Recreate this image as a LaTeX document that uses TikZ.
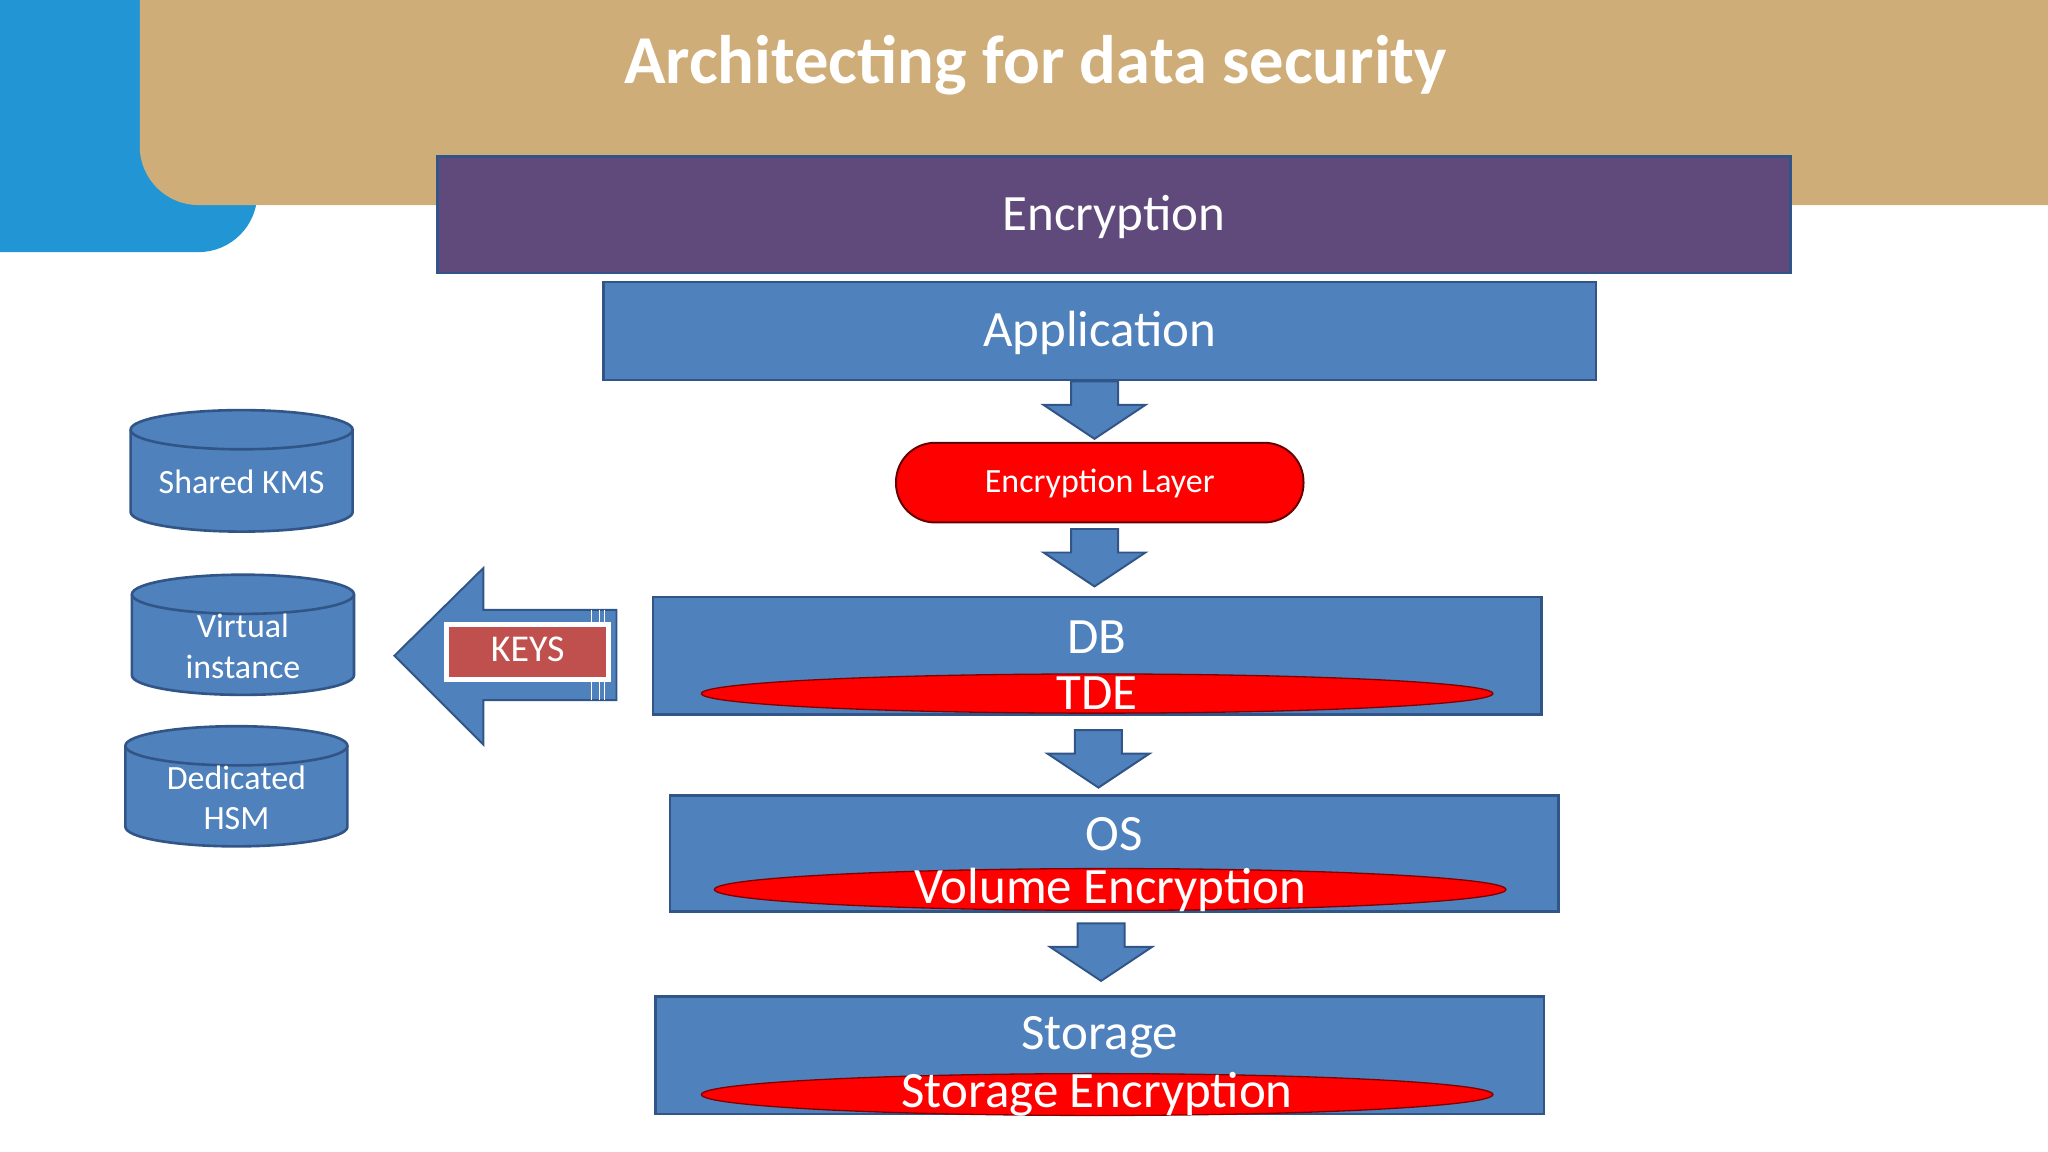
\documentclass[tikz,border=0pt]{standalone}
\usepackage{fontspec}
\setmainfont{Carlito}
\definecolor{sky}{RGB}{34,150,212}
\definecolor{tan}{RGB}{207,173,120}
\definecolor{plum}{RGB}{96,74,123}
\definecolor{boxblue}{RGB}{79,129,189}
\definecolor{edgeblue}{RGB}{50,85,135}
\definecolor{keyred}{RGB}{192,80,77}
\begin{document}
\begin{tikzpicture}[x=1pt,y=-1pt,
  layer/.style={draw=edgeblue,line width=2pt,fill=boxblue},
  big/.style={text=white,font=\fontsize{39}{42}\selectfont},
  lozenge/.style={fill=red,draw=red!50!black,line width=1pt},
  down/.style={fill=boxblue,draw=edgeblue,line width=1.5pt},
  cyl/.style={fill=boxblue,draw=edgeblue,line width=2pt},
  small/.style={text=white,font=\fontsize{26}{31}\selectfont,align=center}]
\useasboundingbox (0,0) rectangle (1568,882);
% header
\fill[sky] (0,0) -- (197,0) -- (197,148) arc[start angle=0,end angle=90,radius=45] -- (0,193) -- cycle;
\fill[tan] (107,0) -- (1568,0) -- (1568,157) -- (152,157) arc[start angle=90,end angle=180,radius=45] -- cycle;
\node[text=white,font=\bfseries\fontsize{52.5}{56}\selectfont] (title) at (793,50) {Architecting for data security};
% layers
\draw[draw=edgeblue,line width=2pt,fill=plum] (335,120) rectangle (1371,209);
\node[big] (enc) at (853,166) {Encryption};
\draw[layer] (462,216) rectangle (1222,291);
\node[big] (app) at (842,255) {Application};
\draw[layer] (500,457) rectangle (1180,547);
\draw[lozenge] (840,531) ellipse[x radius=303,y radius=15];
\node[big] (db) at (840,488) {DB};
\node[big] (tde) at (840,531) {TDE};
\draw[layer] (513,609) rectangle (1193,698);
\draw[lozenge] (850,681) ellipse[x radius=303,y radius=16];
\node[big] (os) at (853,639) {OS};
\node[big] (vol) at (850,681) {Volume Encryption};
\draw[layer] (502,763) rectangle (1182,853);
\draw[lozenge] (840,838) ellipse[x radius=303,y radius=16];
\node[big] (sto) at (842,794) {Storage};
\node[big] (stoenc) at (840,838) {Storage Encryption};
% encryption layer pill
\draw[fill=red,draw=red!40!black,line width=1.5pt,rounded corners=30pt] (686,339) rectangle (998,400);
\node[small] (encl) at (842,370) {Encryption Layer};
% down arrows
\foreach \x/\y in {838/292,838/405,841/559,843/707}
  \draw[down] (\x-18,\y) -- (\x+18,\y) -- (\x+18,\y+18) -- (\x+39,\y+18) -- (\x,\y+44) -- (\x-39,\y+18) -- (\x-18,\y+18) -- cycle;
% cylinders
\foreach \x/\yt/\yb in {185/329/392,186/455/517,181/571/633}{
  \draw[cyl] (\x-85,\yt) -- (\x-85,\yb) arc[start angle=180,end angle=0,x radius=85,y radius=15] -- (\x+85,\yt);
  \draw[cyl] (\x,\yt) ellipse[x radius=85,y radius=15];
}
\node[small] (kms) at (185,369) {Shared KMS};
\node[small] (vi) at (186,495) {Virtual\\instance};
\node[small] (hsm) at (181,611) {Dedicated\\HSM};
% keys arrow
\draw[down] (302,502) -- (370,435) -- (370,467) -- (472,467) -- (472,536) -- (370,536) -- (370,570) -- cycle;
\draw[white,line width=1pt] (453,467) -- (453,536) (459,467) -- (459,536) (463,467) -- (463,536);
\draw[fill=keyred,draw=white,line width=4pt] (342,478) rectangle (466,520);
\node[small,font=\fontsize{29}{31}\selectfont] (keys) at (404,497) {KEYS};
\end{tikzpicture}
\end{document}
